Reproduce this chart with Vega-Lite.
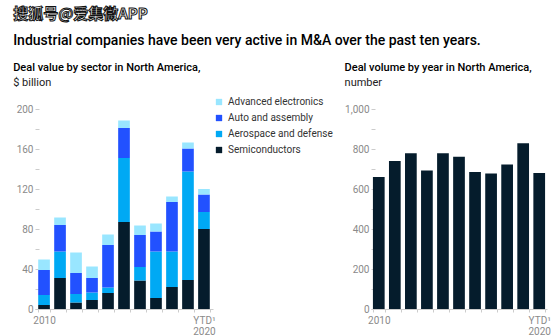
{
  "$schema": "https://vega.github.io/schema/vega-lite/v6.json",
  "background": "white",
  "padding": {"left": 13, "top": 7, "right": 4, "bottom": 2},
  "title": {
    "text": "搜狐号@爱集微APP",
    "subtitle": "Industrial companies have been very active in M&A over the past ten years.",
    "anchor": "start",
    "font": "Noto Sans CJK SC",
    "fontSize": 15,
    "fontWeight": "bold",
    "color": "#ffffff",
    "encoding": {"stroke": {"value": "#111111"}, "strokeWidth": {"value": 1}},
    "subtitleFont": "Roboto",
    "subtitleFontSize": 14,
    "subtitleFontWeight": 500,
    "subtitleColor": "#000000",
    "subtitlePadding": 12,
    "offset": 14
  },
  "datasets": {
    "sectors": [
      {"sector": "Semiconductors", "tier": 1},
      {"sector": "Aerospace and defense", "tier": 2},
      {"sector": "Auto and assembly", "tier": 3},
      {"sector": "Advanced electronics", "tier": 4}
    ]
  },
  "spacing": 128,
  "hconcat": [
    {
      "title": {
        "text": "Deal value by sector in North America,",
        "subtitle": "$ billion",
        "dx": -3
      },
      "width": 178,
      "height": 200,
      "data": {
        "values": [
          {"year": "2010", "sector": "Semiconductors", "value": 4},
          {"year": "2010", "sector": "Aerospace and defense", "value": 10},
          {"year": "2010", "sector": "Auto and assembly", "value": 25},
          {"year": "2010", "sector": "Advanced electronics", "value": 10.5},
          {"year": "2011", "sector": "Semiconductors", "value": 31},
          {"year": "2011", "sector": "Aerospace and defense", "value": 26.5},
          {"year": "2011", "sector": "Auto and assembly", "value": 26.5},
          {"year": "2011", "sector": "Advanced electronics", "value": 7.5},
          {"year": "2012", "sector": "Semiconductors", "value": 6.5},
          {"year": "2012", "sector": "Aerospace and defense", "value": 8.5},
          {"year": "2012", "sector": "Auto and assembly", "value": 21},
          {"year": "2012", "sector": "Advanced electronics", "value": 20.5},
          {"year": "2013", "sector": "Semiconductors", "value": 9},
          {"year": "2013", "sector": "Aerospace and defense", "value": 7.5},
          {"year": "2013", "sector": "Auto and assembly", "value": 14.5},
          {"year": "2013", "sector": "Advanced electronics", "value": 11.5},
          {"year": "2014", "sector": "Semiconductors", "value": 16},
          {"year": "2014", "sector": "Aerospace and defense", "value": 5.5},
          {"year": "2014", "sector": "Auto and assembly", "value": 42.5},
          {"year": "2014", "sector": "Advanced electronics", "value": 10.5},
          {"year": "2015", "sector": "Semiconductors", "value": 87},
          {"year": "2015", "sector": "Aerospace and defense", "value": 64},
          {"year": "2015", "sector": "Auto and assembly", "value": 30},
          {"year": "2015", "sector": "Advanced electronics", "value": 7.5},
          {"year": "2016", "sector": "Semiconductors", "value": 28.5},
          {"year": "2016", "sector": "Aerospace and defense", "value": 13.5},
          {"year": "2016", "sector": "Auto and assembly", "value": 32},
          {"year": "2016", "sector": "Advanced electronics", "value": 9.5},
          {"year": "2017", "sector": "Semiconductors", "value": 11},
          {"year": "2017", "sector": "Aerospace and defense", "value": 46.5},
          {"year": "2017", "sector": "Auto and assembly", "value": 20},
          {"year": "2017", "sector": "Advanced electronics", "value": 8},
          {"year": "2018", "sector": "Semiconductors", "value": 22},
          {"year": "2018", "sector": "Aerospace and defense", "value": 35.5},
          {"year": "2018", "sector": "Auto and assembly", "value": 49.5},
          {"year": "2018", "sector": "Advanced electronics", "value": 5.5},
          {"year": "2019", "sector": "Semiconductors", "value": 29},
          {"year": "2019", "sector": "Aerospace and defense", "value": 108.5},
          {"year": "2019", "sector": "Auto and assembly", "value": 23},
          {"year": "2019", "sector": "Advanced electronics", "value": 6},
          {"year": "2020", "sector": "Semiconductors", "value": 80},
          {"year": "2020", "sector": "Aerospace and defense", "value": 17},
          {"year": "2020", "sector": "Auto and assembly", "value": 17.5},
          {"year": "2020", "sector": "Advanced electronics", "value": 5.5}
        ]
      },
      "transform": [
        {"lookup": "sector", "from": {"data": {"name": "sectors"}, "key": "sector", "fields": ["tier"]}}
      ],
      "mark": {"type": "bar"},
      "encoding": {
        "x": {
          "field": "year",
          "type": "ordinal",
          "scale": {"paddingInner": 0.27, "paddingOuter": 0.2},
          "axis": {
            "labelExpr": "datum.value == '2010' ? '2010' : datum.value == '2020' ? ['YTD¹', '2020'] : ''"
          }
        },
        "y": {
          "field": "value",
          "type": "quantitative",
          "stack": "zero",
          "scale": {"domain": [0, 200], "nice": false},
          "axis": {
            "values": [0, 20, 40, 60, 80, 100, 120, 140, 160, 180, 200],
            "labelExpr": "datum.value % 40 == 0 ? format(datum.value, 'd') : ''"
          }
        },
        "color": {
          "field": "sector",
          "type": "nominal",
          "scale": {
            "domain": ["Advanced electronics", "Auto and assembly", "Aerospace and defense", "Semiconductors"],
            "range": ["#99e6ff", "#2251ff", "#00a9f4", "#051c2c"]
          },
          "legend": {
            "orient": "none",
            "legendX": 179,
            "legendY": -12,
            "title": null,
            "symbolType": "square",
            "symbolSize": 40,
            "symbolStrokeWidth": 0,
            "labelFont": "Roboto",
            "labelFontSize": 10,
            "labelColor": "#333333",
            "labelOffset": 4,
            "rowPadding": 6
          }
        },
        "order": {"field": "tier", "type": "quantitative", "sort": "ascending"}
      }
    },
    {
      "title": {
        "text": "Deal volume by year in North America,",
        "subtitle": "number",
        "dx": 0
      },
      "width": 176,
      "height": 200,
      "data": {
        "values": [
          {"year": "2010", "deals": 660},
          {"year": "2011", "deals": 740},
          {"year": "2012", "deals": 779},
          {"year": "2013", "deals": 693},
          {"year": "2014", "deals": 779},
          {"year": "2015", "deals": 761},
          {"year": "2016", "deals": 685},
          {"year": "2017", "deals": 678},
          {"year": "2018", "deals": 723},
          {"year": "2019", "deals": 829},
          {"year": "2020", "deals": 680}
        ]
      },
      "mark": {"type": "bar", "color": "#051c2c"},
      "encoding": {
        "x": {
          "field": "year",
          "type": "ordinal",
          "scale": {"paddingInner": 0.27, "paddingOuter": 0.12},
          "axis": {
            "labelExpr": "datum.value == '2010' ? '2010' : datum.value == '2020' ? ['YTD¹', '2020'] : ''"
          }
        },
        "y": {
          "field": "deals",
          "type": "quantitative",
          "scale": {"domain": [0, 1000], "nice": false},
          "axis": {
            "values": [0, 100, 200, 300, 400, 500, 600, 700, 800, 900, 1000],
            "labelExpr": "datum.value % 200 == 0 ? format(datum.value, ',') : ''"
          }
        }
      }
    }
  ],
  "config": {
    "view": {"stroke": null},
    "font": "Roboto",
    "title": {
      "anchor": "start",
      "font": "Roboto",
      "fontSize": 11,
      "fontWeight": 500,
      "color": "#000000",
      "subtitleFont": "Roboto",
      "subtitleFontSize": 11,
      "subtitleColor": "#222222",
      "subtitlePadding": 4,
      "offset": 16
    },
    "axis": {
      "title": null,
      "grid": false,
      "labelFont": "Roboto",
      "labelFontSize": 10,
      "labelColor": "#8a8a8a",
      "tickColor": "#cccccc",
      "domainColor": "#cccccc"
    },
    "axisX": {
      "labelAngle": 0,
      "tickBand": "extent",
      "tickSize": 3,
      "labelPadding": 3,
      "labelLineHeight": 11
    },
    "axisY": {
      "domain": false,
      "tickSize": 4,
      "labelPadding": 2,
      "offset": -4
    }
  }
}
